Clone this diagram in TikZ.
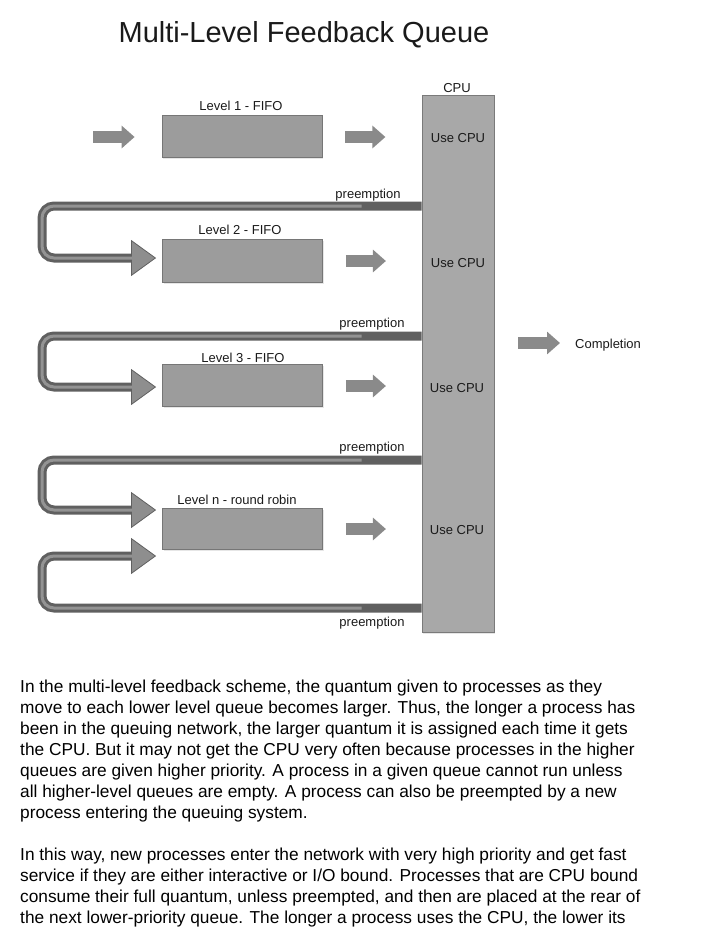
\documentclass[tikz,border=0pt]{standalone}
\usepackage{fontspec}
\setmainfont{Liberation Sans}
\usetikzlibrary{arrows.meta,calc,shadows}
\definecolor{boxfill}{HTML}{9C9C9C}
\definecolor{boxedge}{HTML}{767676}
\definecolor{cpufill}{HTML}{A8A8A8}
\definecolor{cpuedge}{HTML}{7A7A7A}
\definecolor{arrowgray}{HTML}{8A8A8A}
\definecolor{pipeout}{HTML}{606060}
\definecolor{pipein}{HTML}{939393}
\definecolor{headgray}{HTML}{8E8E8E}
\definecolor{inkblack}{HTML}{1A1A1A}
\tikzset{
  qbox/.style={draw=boxedge, fill=boxfill, line width=0.8pt, minimum width=160, inner sep=0,
    drop shadow={opacity=0.2, shadow xshift=1pt, shadow yshift=-1.5pt}},
  cpubox/.style={draw=cpuedge, fill=cpufill, line width=0.8pt, minimum width=72, minimum height=537, inner sep=0,
    drop shadow={opacity=0.2, shadow xshift=1pt, shadow yshift=-1.5pt}},
  lbl/.style={font=\fontsize{13}{15}\selectfont, text=inkblack, inner sep=0, anchor=base},
  bodytext/.style={font=\fontsize{17.3}{21}\selectfont, text=black, inner sep=0, anchor=base west},
  blockarrow/.style={draw=arrowgray, line width=12pt, -{Triangle[width=22pt,length=13pt]}},
  pipeouter/.style={draw=pipeout, line width=9pt, rounded corners=12, -{Triangle[width=36pt,length=25pt,fill=headgray,color=pipeout,line width=0.8pt]}},
  pipeinner/.style={draw=pipein, line width=3pt, rounded corners=12}
}
\begin{document}
\begin{tikzpicture}[x=1pt,y=-1pt]
\useasboundingbox (0,0) rectangle (707,930);
% title
\node[anchor=base, text=inkblack, inner sep=0, font=\fontsize{29}{35}\selectfont] (title) at (304,42) {Multi-Level Feedback Queue};
% CPU
\node[cpubox] (cpu) at (458,363.5) {};
\node[lbl] (cpulbl) at (457,92) {CPU};
\node[lbl] (u1) at (458,142) {Use CPU};
\node[lbl] (u2) at (458,267) {Use CPU};
\node[lbl] (u3) at (457,392) {Use CPU};
\node[lbl] (u4) at (457,534) {Use CPU};
% queues
\node[qbox, minimum height=42] (q1) at (242,136) {};
\node[qbox, minimum height=43] (q2) at (242.5,260.5) {};
\node[qbox, minimum height=42] (q3) at (242.5,385) {};
\node[qbox, minimum height=41] (q4) at (242.5,528.5) {};
\node[lbl] (l1) at (241,110) {Level 1 - FIFO};
\node[lbl] (l2) at (240,234) {Level 2 - FIFO};
\node[lbl] (l3) at (243,362) {Level 3 - FIFO};
\node[lbl] (l4) at (237,504) {Level n - round robin};
% small arrows
\coordinate (in0) at (93,137);
\draw[blockarrow] (in0) -- ($(q1.west)+(-27,1)$);
\draw[blockarrow] ($(q1.east)+(23,1)$) -- ($(q1.east)+(63,1)$);
\draw[blockarrow] ($(q2.east)+(23,0.5)$) -- ($(q2.east)+(63,0.5)$);
\draw[blockarrow] ($(q3.east)+(23,1)$) -- ($(q3.east)+(63,1)$);
\draw[blockarrow] ($(q4.east)+(23,0.5)$) -- ($(q4.east)+(63,0.5)$);
\node[lbl, anchor=base west] (comp) at (575,348) {Completion};
\draw[blockarrow] ($(cpu.east |- comp.base)+(24,-5)$) -- ($(comp.base west)+(-15,-5)$);
% preemption loops
\coordinate (e1) at (cpu.west |- 0,206);
\coordinate (e2) at (cpu.west |- 0,336);
\coordinate (e3) at (cpu.west |- 0,460);
\coordinate (e4) at (cpu.west |- 0,608);
\coordinate (t2) at ($(q2.west |- 0,258)+(-6,0)$);
\coordinate (t3) at ($(q3.west |- 0,387)+(-6,0)$);
\coordinate (t4a) at ($(q4.west |- 0,510)+(-6,0)$);
\coordinate (t4b) at ($(q4.west |- 0,556)+(-6,0)$);
\draw[pipeouter] (e1) -- (42,206) -- (42,258) -- (t2);
\draw[pipeinner] ($(e1)+(-60,0)$) -- (42,206) -- (42,258) -- ($(t2)+(-24,0)$);
\draw[pipeouter] (e2) -- (42,336) -- (42,387) -- (t3);
\draw[pipeinner] ($(e2)+(-60,0)$) -- (42,336) -- (42,387) -- ($(t3)+(-24,0)$);
\draw[pipeouter] (e3) -- (42,460) -- (42,510) -- (t4a);
\draw[pipeinner] ($(e3)+(-60,0)$) -- (42,460) -- (42,510) -- ($(t4a)+(-24,0)$);
\draw[pipeouter] (e4) -- (42,608) -- (42,556) -- (t4b);
\draw[pipeinner] ($(e4)+(-60,0)$) -- (42,608) -- (42,556) -- ($(t4b)+(-24,0)$);
\node[lbl] (p1) at (368,198) {preemption};
\node[lbl] (p2) at (372,327) {preemption};
\node[lbl] (p3) at (372,451) {preemption};
\node[lbl] (p4) at (372,626) {preemption};
% body text
\node[bodytext] (b1) at (20,692) {In the multi-level feedback scheme, the quantum given to processes as they};
\node[bodytext] (b2) at (20,713) {move to each lower level queue becomes larger. Thus, the longer a process has};
\node[bodytext] (b3) at (20,734) {been in the queuing network, the larger quantum it is assigned each time it gets};
\node[bodytext] (b4) at (20,755) {the CPU. But it may not get the CPU very often because processes in the higher};
\node[bodytext] (b5) at (20,776) {queues are given higher priority. A process in a given queue cannot run unless};
\node[bodytext] (b6) at (20,797) {all higher-level queues are empty. A process can also be preempted by a new};
\node[bodytext] (b7) at (20,818) {process entering the queuing system.};
\node[bodytext] (b8) at (20,860) {In this way, new processes enter the network with very high priority and get fast};
\node[bodytext] (b9) at (20,881) {service if they are either interactive or I/O bound. Processes that are CPU bound};
\node[bodytext] (b10) at (20,902) {consume their full quantum, unless preempted, and then are placed at the rear of};
\node[bodytext] (b11) at (20,923) {the next lower-priority queue. The longer a process uses the CPU, the lower its};
\end{tikzpicture}
\end{document}
